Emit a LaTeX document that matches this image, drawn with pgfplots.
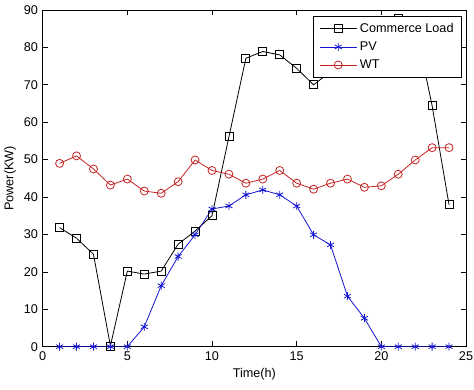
\documentclass[border=0pt]{standalone}
\usepackage{fontspec}
\setmainfont{Liberation Sans}
\usepackage{pgfplots}
\pgfplotsset{compat=1.18}
\definecolor{pvblue}{RGB}{20,20,210}
\definecolor{wtred}{RGB}{195,35,35}
\begin{document}
\begin{tikzpicture}
\begin{axis}[
  scale only axis, width=317.5pt, height=252.5pt,
  xmin=0, xmax=25, ymin=0, ymax=90,
  xtick={0,5,...,25}, ytick={0,10,...,90},
  /pgf/number format/assume math mode=true,
  font=\fontsize{9.5}{11}\selectfont,
  tick label style={font=\fontsize{9.5}{11}\selectfont},
  tick align=inside, major tick length=4pt,
  axis line style={line width=0.6pt},
  every tick/.style={black, line width=0.5pt},
  xlabel={Time(h)}, ylabel={Power(KW)},
  xlabel style={at={(axis description cs:0.5,-0.083)}, anchor=center},
  ylabel style={at={(axis description cs:-0.077,0.5)}, anchor=center},
  legend cell align=left,
  legend style={at={(rel axis cs:1,1)}, xshift=-3pt, yshift=-4.5pt, anchor=north east,
    draw=black, line width=0.6pt, fill=white, font=\fontsize{9.5}{11}\selectfont,
    row sep=1.5pt, inner xsep=4pt, inner ysep=3pt},
  legend image code/.code={\draw[mark repeat=2,mark phase=2] plot coordinates {(0pt,0pt) (14pt,0pt) (28pt,0pt)};},
]
\addplot[black, line width=0.6pt, mark=square, mark size=3pt, mark options={solid, line width=0.6pt}]
  coordinates {(1,31.8) (2,29.0) (3,24.7) (4,0.2) (5,20.2) (6,19.4) (7,20.2) (8,27.4) (9,30.9) (10,35.0)
  (11,56.1) (12,77.1) (13,78.9) (14,78.0) (15,74.4) (16,70.0) (17,73.5) (18,78) (19,82) (20,85.5)
  (21,87.8) (22,86.0) (23,64.4) (24,37.9)};
\addlegendentry{Commerce Load}
\addplot[pvblue, line width=0.6pt, mark=asterisk, mark size=3pt, mark options={solid, line width=0.6pt}]
  coordinates {(1,0) (2,0) (3,0) (4,0) (5,0) (6,5.3) (7,16.3) (8,24.1) (9,29.9) (10,36.8)
  (11,37.6) (12,40.6) (13,41.9) (14,40.6) (15,37.6) (16,29.9) (17,27.2) (18,13.5) (19,7.6) (20,0)
  (21,0) (22,0) (23,0) (24,0)};
\addlegendentry{PV}
\addplot[wtred, line width=0.6pt, mark=o, mark size=3pt, mark options={solid, line width=0.6pt}]
  coordinates {(1,49.0) (2,51.0) (3,47.5) (4,43.2) (5,44.8) (6,41.6) (7,41.0) (8,44.1) (9,49.9) (10,47.1)
  (11,46.1) (12,43.7) (13,44.8) (14,47.1) (15,43.7) (16,42.1) (17,43.7) (18,44.8) (19,42.6) (20,43.0)
  (21,46.1) (22,49.9) (23,53.2) (24,53.2)};
\addlegendentry{WT}
\end{axis}
\pgfresetboundingbox
\path (current axis.south west) ++(-32pt,-32.5pt) rectangle ([xshift=6pt,yshift=7.5pt]current axis.north east);
\end{tikzpicture}
\end{document}
